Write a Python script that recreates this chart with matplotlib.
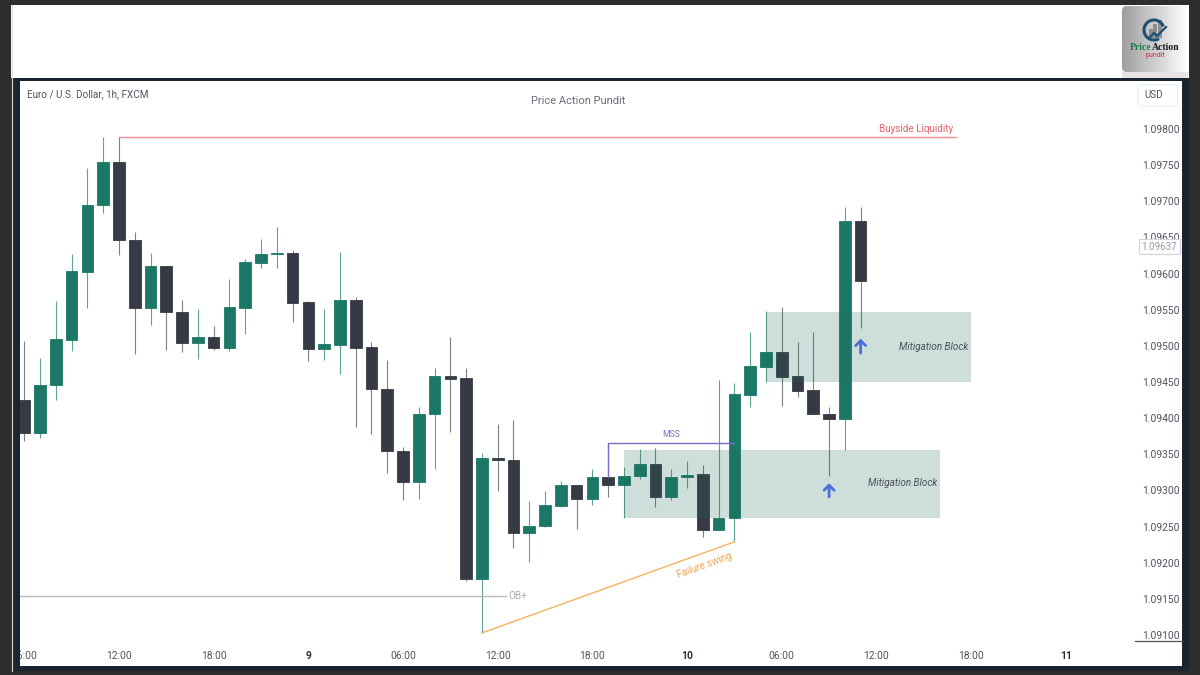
import matplotlib
matplotlib.use("Agg")
import matplotlib.pyplot as plt
import numpy as np
from matplotlib.patches import Rectangle, FancyBboxPatch, Arc
from matplotlib.transforms import blended_transform_factory

plt.rcParams['font.family'] = ['Roboto', 'DejaVu Sans']

# ---------- data ----------
hours = list(range(54))
opens = [1.09425,1.09380,1.09446,1.09508,1.09602,1.09695,1.09754,1.09646,1.09552,1.09610,
         1.09547,1.09504,1.09512,1.09497,1.09552,1.09615,1.09627,1.09629,1.09561,1.09496,
         1.09501,1.09563,1.09498,1.09440,1.09355,1.09312,1.09406,1.09458,1.09456,1.09178,
         1.09345,1.09342,1.09241,1.09251,1.09279,1.09308,1.09288,1.09319,1.09308,1.09320,
         1.09337,1.09291,1.09319,1.09323,1.09245,1.09262,1.09432,1.09471,1.09492,1.09458,
         1.09439,1.09406,1.09399,1.09673]
highs = [1.09507,1.09483,1.09562,1.09627,1.09746,1.09789,1.09789,1.09658,1.09628,1.09610,
         1.09563,1.09551,1.09528,1.09593,1.09620,1.09648,1.09664,1.09633,1.09562,1.09551,
         1.09630,1.09568,1.09505,1.09480,1.09360,1.09415,1.09469,1.09512,1.09469,1.09352,
         1.09392,1.09397,1.09285,1.09299,1.09313,1.09308,1.09330,1.09366,1.09332,1.09357,
         1.09359,1.09330,1.09341,1.09335,1.09453,1.09449,1.09519,1.09548,1.09554,1.09505,
         1.09519,1.09415,1.09692,1.09692]
lows = [1.09368,1.09373,1.09425,1.09493,1.09552,1.09684,1.09626,1.09489,1.09529,1.09494,
        1.09492,1.09482,1.09494,1.09493,1.09516,1.09608,1.09608,1.09533,1.09479,1.09480,
        1.09461,1.09388,1.09378,1.09324,1.09287,1.09288,1.09330,1.09381,1.09175,1.09103,
        1.09299,1.09220,1.09201,1.09250,1.09277,1.09247,1.09280,1.09291,1.09262,1.09316,
        1.09277,1.09287,1.09303,1.09236,1.09245,1.09229,1.09415,1.09450,1.09417,1.09429,
        1.09406,1.09320,1.09356,1.09525]
closes = [1.09380,1.09446,1.09510,1.09604,1.09695,1.09754,1.09646,1.09552,1.09610,1.09547,
          1.09504,1.09512,1.09497,1.09554,1.09616,1.09627,1.09629,1.09559,1.09496,1.09503,
          1.09563,1.09497,1.09440,1.09355,1.09312,1.09406,1.09458,1.09454,1.09178,1.09345,
          1.09342,1.09241,1.09251,1.09280,1.09308,1.09288,1.09319,1.09308,1.09320,1.09337,
          1.09291,1.09319,1.09321,1.09245,1.09262,1.09433,1.09472,1.09492,1.09457,1.09438,
          1.09406,1.09399,1.09673,1.09590]

price_ticks = [1.09100,1.09150,1.09200,1.09250,1.09300,1.09350,1.09400,1.09450,1.09500,
               1.09550,1.09600,1.09650,1.09700,1.09750,1.09800]
time_ticks = [0,6,12,18,24,30,36,42,48,54,60,66]
time_labels = ["06:00","12:00","18:00","9","06:00","12:00","18:00","10","06:00","12:00","18:00","11"]
day_labels = {"9","10","11"}

last_price = 1.09637
blocks = [(38,58,1.09262,1.09356),(47,60,1.09450,1.09547)]
block_labels = [(55.65,1.09310),(57.6,1.09499)]
buyside = ([6,59.06],[1.09789,1.09789])
ob_line = ([-0.3,30.5],[1.09154,1.09154])
failure = ([29,45],[1.09103,1.09229])
mss = ([37,37,45],[1.09319,1.09366,1.09366])
arrows = [(51,1.09291,1.09310),(53,1.09490,1.09510)]

# ---------- colours ----------
UP, DOWN = "#1c7866", "#363a45"
NAVY, OUTER = "#1b2530", "#2d2d2d"
TXT = "#50535e"
SMALL = 7.1

W, H = 1200, 675
fig = plt.figure(figsize=(12, 6.75), dpi=100, facecolor=OUTER)

def px_axes(z):
    a = fig.add_axes([0, 0, 1, 1], zorder=z)
    a.set_xlim(0, W); a.set_ylim(H, 0); a.axis("off")
    return a

bg = px_axes(0)
bg.add_patch(Rectangle((11, 5), 1178, 73, fc="white", ec="none"))
bg.add_patch(Rectangle((12, 78), 1177, 593, fc=NAVY, ec="none"))
bg.add_patch(Rectangle((20, 81), 1162, 585, fc="white", ec="none"))
bg.plot([1135, 1182], [641, 641], color="#50535e", lw=0.9)
bg.add_patch(FancyBboxPatch((1138, 85), 40, 21, boxstyle="round,pad=0,rounding_size=3", fc="white", ec="#eef0f3", lw=1))
bg.text(1153.5, 95.5, "USD", color=TXT, fontsize=SMALL, ha="center", va="center")

# ---------- main chart ----------
ax = fig.add_axes([20/W, 1-641/H, 1112/W, 560/H], zorder=1)
ax.set_facecolor("none")
ax.set_xlim((20-24.3)/15.78, (1132-24.3)/15.78)
ax.set_ylim(1.098-(641-129)/72300, 1.098+(129-81)/72300)
for s in ax.spines.values():
    s.set_visible(False)

o, c = np.array(opens), np.array(closes)
colors = [UP if cc >= oo else DOWN for oo, cc in zip(o, c)]
wick_colors = [("#5fa398" if cc >= oo else "#7c7f87") for oo, cc in zip(o, c)]
ax.vlines(hours, lows, highs, colors=wick_colors, lw=0.8, zorder=2)
ax.bar(hours, np.abs(c-o), bottom=np.minimum(o, c), width=0.74, color=colors,
       edgecolor=colors, linewidth=0.6, zorder=3)

for x0, x1, y0, y1 in blocks:
    ax.add_patch(Rectangle((x0, y0), x1-x0, y1-y0, fc="#1e6b5f", ec="none", alpha=0.22, zorder=4))
for x, y in block_labels:
    ax.text(x, y, "Mitigation Block", style="italic", color="#4a4f5a", fontsize=SMALL,
            ha="center", va="center", zorder=6)

ax.plot(*buyside, color="#f28b96", lw=1, zorder=5)
ax.text(58.85, 1.09800, "Buyside Liquidity", color="#e8606e", fontsize=SMALL, ha="right", va="center")
ax.plot(*ob_line, color="#b9bbbf", lw=1, zorder=5)
ax.text(30.7, 1.09154, "OB+", color="#a9abb0", fontsize=SMALL, ha="left", va="center")
ax.plot(*failure, color="#f7b25e", lw=1, zorder=5)
ax.text(43.1, 1.09197, "Failure swing", color="#f5a34a", fontsize=SMALL, ha="center", va="center",
        rotation=20, rotation_mode="anchor")
ax.plot(*mss, color="#7e6cc9", lw=1, zorder=5)
ax.text(41, 1.09378, "MSS", color="#7e6cc9", fontsize=6.2, ha="center", va="center")
for x, y0, y1 in arrows:
    ax.annotate("", xy=(x, y1), xytext=(x, y0), zorder=6,
                arrowprops=dict(arrowstyle="->,head_width=0.36,head_length=0.36", color="#4a6fd8",
                                lw=2, shrinkA=0, shrinkB=0))

ax.set_xticks(time_ticks)
ax.set_xticklabels(time_labels)
ax.set_yticks(price_ticks)
ax.set_yticklabels([f"{p:.5f}" for p in price_ticks])
ax.yaxis.tick_right()
ax.tick_params(axis="y", length=0, pad=7, labelsize=7.4, labelcolor=TXT)
ax.tick_params(axis="x", length=0, pad=7, labelsize=7.4, labelcolor=TXT)
for lbl in ax.get_xticklabels():
    if lbl.get_text() in day_labels:
        lbl.set_fontweight("bold")
        lbl.set_color("#2a2e39")

ax.text(0.0063, 0.9768, "Euro / U.S. Dollar, 1h, FXCM", transform=ax.transAxes, color=TXT, fontsize=SMALL, va="center")
ax.text(0.5018, 0.9635, "Price Action Pundit", transform=ax.transAxes, color="#6a6d78", fontsize=8, ha="center", va="center")
trans = blended_transform_factory(ax.transAxes, ax.transData)
ax.text(1.0085, last_price, f"{last_price:.5f}", transform=trans, color="#9a9ca3", fontsize=7.1, va="center",
        ha="left", clip_on=False, zorder=7,
        bbox=dict(boxstyle="square,pad=0.25", fc="white", ec="#cfd2d8", lw=0.8))

# ---------- foreground frame and logo ----------
fg = px_axes(3)
fg.add_patch(Rectangle((0, 81), 11, 594, fc=OUTER, ec="none"))
fg.add_patch(Rectangle((12, 78), 8, 593, fc=NAVY, ec="none"))
fg.plot([11.5, 11.5], [5, 671], color="#d8dade", lw=0.8)

fg.add_patch(Rectangle((1122, 72), 66, 6, fc="#dcdcdc", ec="none", alpha=0.7))
clip = FancyBboxPatch((1122, 6), 66, 66, boxstyle="round,pad=0,rounding_size=5", fc="none", ec="none",
                      transform=fg.transData)
fg.add_patch(clip)
grad = np.linspace(0.62, 1.0, 200).reshape(1, -1)
im = fg.imshow(grad, extent=(1122, 1188, 72, 6), cmap="gray", vmin=0, vmax=1, aspect="auto", zorder=1)
im.set_clip_path(clip)
fg.set_xlim(0, W); fg.set_ylim(H, 0)

for bx, bh in [(1149, 9), (1153, 14), (1158, 18)]:
    fg.add_patch(Rectangle((bx, 38-bh), 3.5, bh, fc="#8d8d8d", ec="none", zorder=2))
fg.add_patch(Arc((1154, 30), 20, 20, theta1=60, theta2=340, ec="#1d4f73", lw=2.2, zorder=3))
fg.plot([1149, 1154, 1157, 1166], [38, 33, 36, 27], color="#1d4f73", lw=1.6, zorder=3)
fg.text(1130, 47, "Price", color="#1a7a48", fontsize=6.9, fontweight="bold", family="Liberation Serif",
        ha="left", va="center", zorder=4)
fg.text(1180, 47, "Action", color="#15181c", fontsize=6.9, fontweight="bold", family="Liberation Serif",
        ha="right", va="center", zorder=4)
fg.text(1155, 55.5, "pundit", color="#d9303f", fontsize=5, ha="center", va="center", zorder=4)

fig.savefig("out.png", dpi=100, facecolor=OUTER)
